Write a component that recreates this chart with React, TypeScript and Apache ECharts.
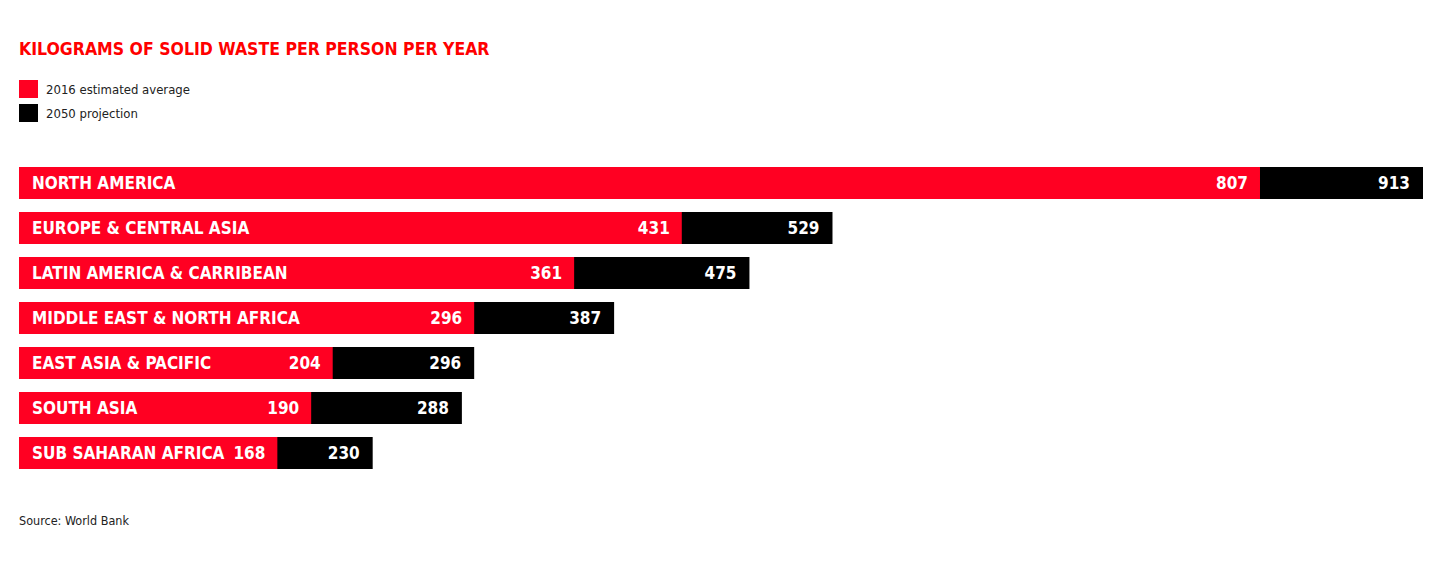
import React, { useEffect, useRef } from "react";
import * as echarts from "echarts";

const categories = [
  "NORTH AMERICA",
  "EUROPE & CENTRAL ASIA",
  "LATIN AMERICA & CARRIBEAN",
  "MIDDLE EAST & NORTH AFRICA",
  "EAST ASIA & PACIFIC",
  "SOUTH ASIA",
  "SUB SAHARAN AFRICA",
];
const values2016 = [807, 431, 361, 296, 204, 190, 168];
const values2050 = [913, 529, 475, 387, 296, 288, 230];
const seriesNames = ["2016 estimated average", "2050 projection"];

const FONT = "'Liberation Sans Narrow', 'DejaVu Sans Condensed', 'Roboto', sans-serif";
const RED = "#FF0022";

export default function App() {
  const ref = useRef<HTMLDivElement>(null);
  useEffect(() => {
    document.body.style.margin = "0";
    const chart = echarts.init(ref.current!, null, { renderer: "svg" });
    chart.setOption({
      animation: false,
      textStyle: { fontFamily: FONT },
      title: {
        text: "KILOGRAMS OF SOLID WASTE PER PERSON PER YEAR",
        left: 19,
        top: 40,
        padding: 0,
        textStyle: { color: "#FF0000", fontSize: 17.5, fontWeight: "bold", fontFamily: FONT },
      },
      legend: {
        data: [seriesNames[0], seriesNames[1]],
        orient: "vertical",
        left: 19,
        top: 80,
        padding: 0,
        itemWidth: 19,
        itemHeight: 18,
        itemGap: 6,
        icon: "rect",
        selectedMode: false,
        textStyle: { fontSize: 13, color: "#222", fontFamily: FONT, padding: [0, 0, 0, 3] },
      },
      grid: { left: 19, right: 17, top: 160.5, height: 315, containLabel: false },
      xAxis: { type: "value", min: 0, max: 913, show: false },
      yAxis: {
        type: "category",
        data: categories,
        inverse: true,
        show: false,
      },
      series: [
        {
          name: seriesNames[1],
          type: "bar",
          data: values2050,
          barWidth: 32,
          barGap: "-100%",
          itemStyle: { color: "#000" },
          label: {
            show: true,
            position: "insideRight",
            distance: 13,
            color: "#fff",
            fontSize: 17,
            fontWeight: "bold",
            fontFamily: FONT,
          },
          z: 1,
        },
        {
          name: seriesNames[0],
          type: "bar",
          data: values2016,
          barWidth: 32,
          barGap: "-100%",
          itemStyle: { color: RED },
          label: {
            show: true,
            position: "insideLeft",
            distance: 13,
            color: "#fff",
            fontSize: 17,
            fontWeight: "bold",
            fontFamily: FONT,
            formatter: (p: any) => p.name,
          },
          z: 2,
        },
        {
          name: "values2016",
          type: "bar",
          data: values2016,
          barWidth: 32,
          barGap: "-100%",
          itemStyle: { color: "rgba(0,0,0,0)" },
          label: {
            show: true,
            position: "insideRight",
            distance: 12,
            color: "#fff",
            fontSize: 17,
            fontWeight: "bold",
            fontFamily: FONT,
          },
          z: 3,
          silent: true,
        },
      ],
      graphic: [
        {
          type: "text",
          left: 19,
          top: 514,
          style: { text: "Source: World Bank", fontSize: 12.5, fill: "#222", fontFamily: FONT },
        },
      ],
    });
    return () => chart.dispose();
  }, []);
  return <div ref={ref} style={{ width: 1440, height: 567 }} />;
}
